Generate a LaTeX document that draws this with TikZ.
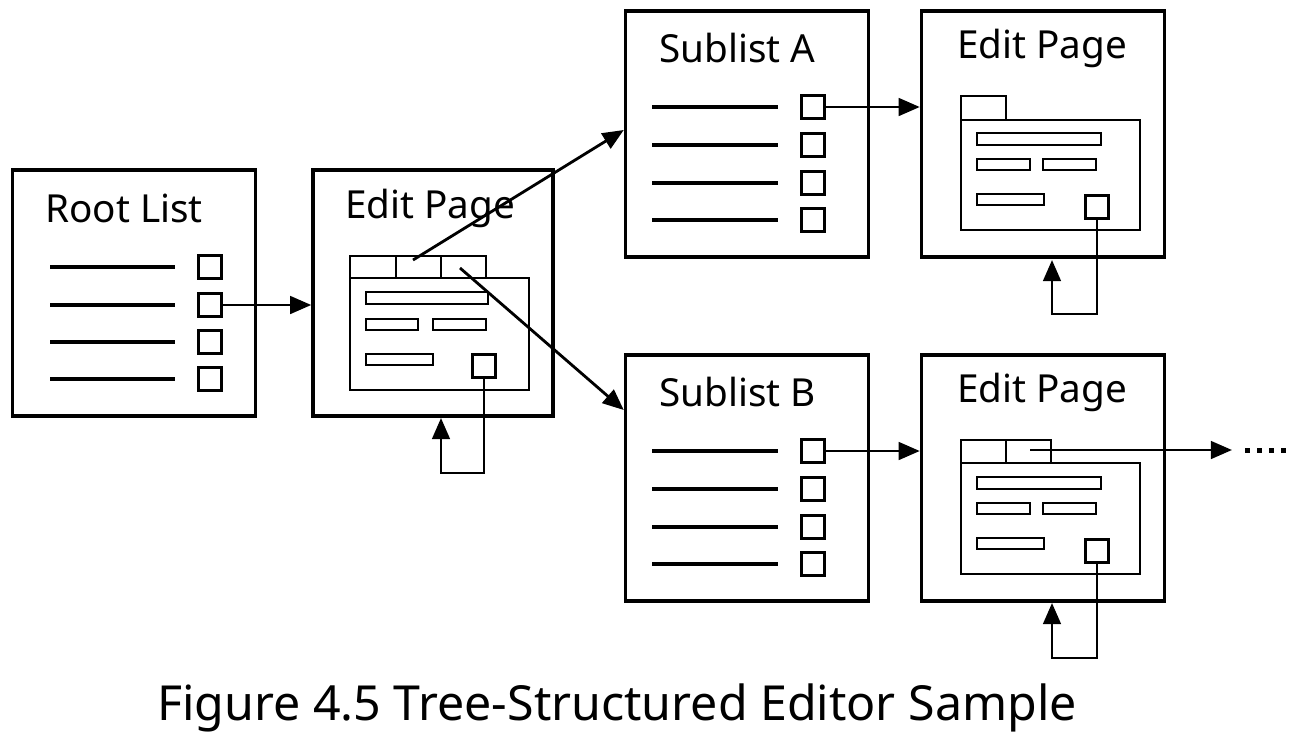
\documentclass[tikz,border=0pt]{standalone}
\usepackage{fontspec}
\setmainfont{Noto Sans}
\usetikzlibrary{arrows.meta, positioning}
\tikzset{
  win/.style={draw, line width=2pt, minimum width=4.86cm, minimum height=4.92cm, inner sep=0pt},
  chk/.style={draw, line width=1.5pt, minimum size=0.46cm, inner sep=0pt},
  row/.style={line width=2.6pt},
  part/.style={draw, line width=1.6pt},
  ttl/.style={font=\fontsize{22}{24}\selectfont, inner sep=0pt, anchor=west},
  lnk/.style={line width=1.6pt, -{Triangle[length=12pt,width=10pt]}}
}
\begin{document}
\begin{tikzpicture}[x=0.02cm, y=-0.02cm]
\useasboundingbox (0,0) rectangle (1315,734);

% root list
\node[win] (root) at (134,293) {};
\node[ttl] at (45,208) {Root List};
\foreach \i/\y in {1/267,2/305,3/342,4/379} {
  \draw[row] (50,\y) -- (175,\y);
  \node[chk] (r\i) at (210,\y) {};
}

% sublists
\foreach \s/\t/\c in {A/Sublist A/134, B/Sublist B/478} {
  \node[win] (sub\s) at (747,\c) {};
  \node[ttl] at (659,\c-86) {\t};
  \foreach \i/\d in {1/-27,2/11,3/49,4/86} {
    \draw[row] (652,\c+\d) -- (778,\c+\d);
    \node[chk] (\s\i) at (813,\c+\d) {};
  }
}

% edit pages
\node[win, minimum width=4.8cm] (ed0) at (433,293) {};
\node[ttl] at (345,208) {Edit Page};
\draw[part] (350,256) rectangle (486,278) (396,256) -- (396,278) (441,256) -- (441,278);
\draw[part] (350,278) rectangle (529,390);
\draw[part] (366,292) rectangle (488,304) (366,319) rectangle (418,330)
  (433,319) rectangle (486,330) (366,354) rectangle (433,365);
\node[chk] (k0) at (484,366) {};

\node[win] (edA) at (1043,134) {};
\node[ttl] at (957,48) {Edit Page};
\draw[part] (961,96) rectangle (1006,120);
\draw[part] (961,120) rectangle (1140,230);
\draw[part] (977,133) rectangle (1101,145) (977,159) rectangle (1030,170)
  (1043,159) rectangle (1096,170) (977,194) rectangle (1044,205);
\node[chk] (kA) at (1097,207) {};

\node[win] (edB) at (1043,478) {};
\node[ttl] at (957,392) {Edit Page};
\draw[part] (961,440) rectangle (1051,463) (1006,440) -- (1006,463);
\draw[part] (961,463) rectangle (1140,574);
\draw[part] (977,477) rectangle (1101,489) (977,503) rectangle (1030,514)
  (1043,503) rectangle (1096,514) (977,538) rectangle (1044,549);
\node[chk] (kB) at (1097,551) {};

% links
\coordinate (t0a) at (413,260);
\coordinate (t0b) at (460,268);
\coordinate (tB) at (1030,450);
\coordinate (far) at (1232,450);
\draw[lnk] (r2) -- (ed0.west |- r2);
\draw[lnk] (t0a) -- (subA.west |- 0,130);
\draw[lnk] (t0b) -- (subB.west |- 0,410);
\draw[lnk] (A1) -- (edA.west |- A1);
\draw[lnk] (B1) -- (edB.west |- B1);
\draw[lnk] (tB) -- (far);
\foreach \x in {1245,1257,1269,1281} \fill (\x,453) rectangle +(5,-5);

% loops
\draw[lnk] (k0.south) -- (484,473) -- (441,473) -- (441,418);
\draw[lnk] (kA.south) -- (1097,314) -- (1052,314) -- (1052,260);
\draw[lnk] (kB.south) -- (1097,658) -- (1052,658) -- (1052,603);

\node[font=\fontsize{27.5}{30}\selectfont, inner sep=0pt] (cap) at (617,708) {Figure 4.5 Tree-Structured Editor Sample};
\end{tikzpicture}
\end{document}
